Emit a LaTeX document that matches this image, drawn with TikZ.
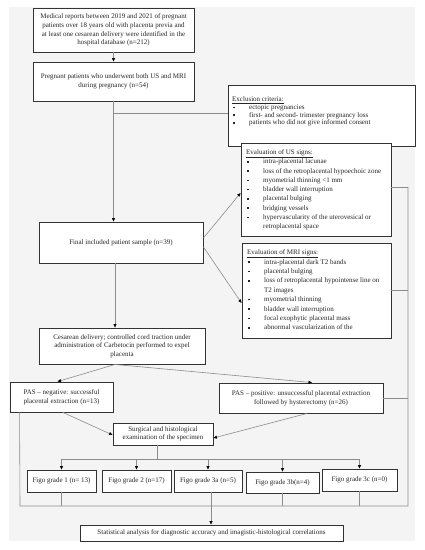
\documentclass[tikz,border=0pt]{standalone}
\usepackage{fontspec}
\setmainfont{Liberation Serif}
\usetikzlibrary{arrows.meta,calc}
\definecolor{bgc}{HTML}{F4F4F4}
\definecolor{boxc}{HTML}{333333}
\definecolor{linec}{HTML}{8C8C8C}
\newcommand{\myfs}{\fontsize{7bp}{8.6bp}\selectfont}
\newcommand{\mybul}{\makebox[17bp][l]{\hspace{1bp}\rule[1.2bp]{1.5bp}{1.5bp}}}
\begin{document}
\begin{tikzpicture}[x=1bp,y=-1bp,
  box/.style={draw=boxc, line width=0.9bp, fill=white, inner sep=1bp, align=center, font=\myfs, text=black!85},
  listtxt/.style={inner sep=0pt, align=left, anchor=north west, text=black!85},
  conn/.style={draw=linec, line width=0.6bp},
  arr/.style={conn, -{Triangle[length=3.5bp,width=3bp,color=black]}}]
\useasboundingbox (0,0) rectangle (424,550);
\fill[bgc] (9,7) rectangle (415,541);

% boxes
\node[box, minimum width=161bp, minimum height=44bp] (b1) at (113.5,30)
  {Medical reports between 2019 and 2021 of pregnant\\patients over 18 years old with placenta previa and\\at least one cesarean delivery were identified in the\\hospital database (n=212)};
\node[box, minimum width=161bp, minimum height=39bp] (b2) at (113.5,81.5)
  {Pregnant patients who underwent both US and MRI\\during pregnancy (n=54)};
\node[box, minimum width=187bp, minimum height=61bp] (exc) at (321.5,115.5) {};
\node[listtxt, font={\fontsize{7bp}{7.8bp}\selectfont}] (excT) at (232,96.5)
  {\underline{Exclusion criteria:}\\
   \mybul ectopic pregnancies\\
   \mybul first- and second- trimester pregnancy loss\\
   \mybul patients who did not give informed consent};
\node[box, minimum width=150bp, minimum height=93bp] (us) at (316,189.5) {};
\node[listtxt, font={\fontsize{7bp}{9.25bp}\selectfont}] (usT) at (246,149.5)
  {\underline{Evaluation of US signs:}\\
   \mybul intra-placental lacunae\\
   \mybul loss of the retroplacental hypoechoic zone\\
   \mybul myometrial thinning <1 mm\\
   \mybul bladder wall interruption\\
   \mybul placental bulging\\
   \mybul bridging vessels\\
   \mybul hypervascularity of the uterovesical or\\
   \hspace*{17bp}retroplacental space};
\node[box, minimum width=149bp, minimum height=95bp] (mri) at (316.5,290.5) {};
\node[listtxt, font={\fontsize{7bp}{9.4bp}\selectfont}] (mriT) at (247,249.5)
  {\underline{Evaluation of MRI signs:}\\
   \mybul intra-placental dark T2 bands\\
   \mybul placental bulging\\
   \mybul loss of retroplacental hypointense line on\\
   \hspace*{17bp}T2 images\\
   \mybul myometrial thinning\\
   \mybul bladder wall interruption\\
   \mybul focal exophytic placental mass\\
   \mybul abnormal vascularization of the};
\node[box, minimum width=164bp, minimum height=41bp] (final) at (121,242.5)
  {Final included patient sample (n=39)};
\node[box, minimum width=166bp, minimum height=36bp] (ces) at (122,346)
  {Cesarean delivery; controlled cord traction under\\administration of Carbetocin performed to expel\\placenta};
\node[box, minimum width=103bp, minimum height=30bp] (pasn) at (61.5,397)
  {PAS -- negative: successful\\placental extraction (n=13)};
\node[box, minimum width=164bp, minimum height=30bp] (pasp) at (301,398)
  {PAS -- positive: unsuccessful placental extraction\\followed by hysterectomy (n=26)};
\node[box, minimum width=100bp, minimum height=22bp] (surg) at (163,434)
  {Surgical and histological\\examination of the specimen};
\node[box, minimum width=69bp, minimum height=22bp] (f1) at (61.5,481) {Figo grade 1 (n= 13)};
\node[box, minimum width=69bp, minimum height=22bp] (f2) at (136.5,481) {Figo grade 2 (n=17)};
\node[box, minimum width=68bp, minimum height=22bp] (f3a) at (208,481) {Figo grade 3a (n=5)};
\node[box, minimum width=73bp, minimum height=21bp] (f3b) at (282.5,482.5) {Figo grade 3b(n=4)};
\node[box, minimum width=75bp, minimum height=22bp] (f3c) at (359.5,480) {Figo grade 3c (n=0)};
\node[box, minimum width=263bp, minimum height=16bp] (stat) at (211.5,533)
  {Statistical analysis for diagnostic accuracy and imagistic-histological correlations};

% coordinates
\coordinate (busT) at (157,459);
\coordinate (bl) at (20,506);
\coordinate (br) at (408,506);

% connectors
\draw[arr] (b1.south) -- (b2.north);
\draw[arr] (b2.south) -- (b2.south |- final.north);
\draw[conn] ($(b2.south |- exc.west)+(0,-2.5)$) -- ($(exc.west)+(0,-2.5)$);
\draw[arr] ($(final.east)+(0,-4.5)$) -- ($(us.west)+(0,3.5)$);
\draw[arr] ($(final.east)+(0,4.5)$) -- ($(mri.west)+(0,12.5)$);
\draw[arr] ($(final.south)+(-6,0)$) -- ($(ces.north)+(-7,0)$);
\draw[arr] ($(ces.south)+(-7,0)$) -- ($(pasn.north)+(-4,0)$);
\draw[arr] ($(ces.south)+(-7,0)$) -- ($(pasp.north)+(11,0)$);
\draw[arr] ($(pasn.south)+(1.5,0)$) -- ($(surg.west)+(0,1)$);
\draw[arr] ($(pasp.south)+(6,0)$) -- ($(surg.east)+(0,4)$);
\draw[conn] ($(surg.south)+(-6,0)$) -- (busT);
\draw[conn] (f1.north |- busT) -- (f3c.north |- busT);
\draw[arr] (f1.north |- busT) -- (f1.north);
\draw[arr] (f2.north |- busT) -- (f2.north);
\draw[arr] (f3a.north |- busT) -- (f3a.north);
\draw[arr] (f3b.north |- busT) -- (f3b.north);
\draw[arr] (f3c.north |- busT) -- (f3c.north);
\draw[conn] ($(pasn.south west)+(10,0)$) -- (bl) -- (br) -- ($(us.east -| br)+(0,-2.5)$);
\draw[conn] ($(us.east)+(0,-2.5)$) -- ($(us.east -| br)+(0,-2.5)$);
\draw[conn] (mri.east) -- (mri.east -| br);
\draw[conn] (pasp.east) -- (pasp.east -| br);
\draw[conn] (f1.south) -- (f1.south |- br);
\draw[conn] (f3b.south) -- (f3b.south |- br);
\draw[conn] (f3c.south) -- (f3c.south |- br);
\draw[arr] ($(f3a.south)+(3,0)$) -- ($(f3a.south |- stat.north)+(3,0)$);
\end{tikzpicture}
\end{document}
